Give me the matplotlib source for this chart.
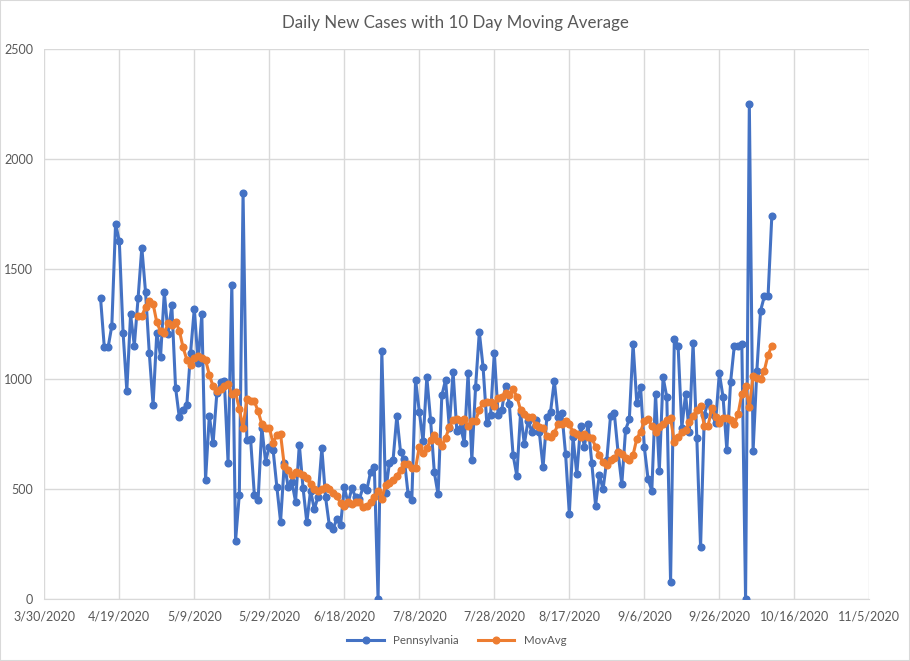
import matplotlib
matplotlib.use("Agg")
import matplotlib.pyplot as plt
import matplotlib.dates as mdates
from matplotlib.patches import Rectangle
import pandas as pd

# Datos (casos diarios desde 4/14/2020)
start_cases = "2020-04-14"
cases = [
    1367, 1144, 1144, 1242, 1707, 1626, 1212, 948, 1294, 1153, 1367, 1598, 1394, 1117, 883, 1212, 1103,
    1394, 1207, 1335, 962, 826, 862, 883, 1120, 1321, 1074, 1294, 544, 835, 708, 935, 985, 992, 621, 1430, 267,
    476, 1844, 726, 730, 476, 449, 780, 626, 694, 680, 512,
    353, 618, 512, 535, 444, 702, 505, 350, 494, 409, 467, 686, 464, 336, 320, 365, 336, 509, 436, 505,
    464, 455, 509, 497, 579, 603, 0, 1126, 485, 618,
    633, 833, 668, 636, 479, 452, 997, 852, 717, 1009, 815, 577, 477, 926, 997, 780, 1033, 765, 780, 712,
    1027, 633, 964, 1214, 1055, 800, 838, 1121, 838, 861, 970,
    888, 656, 562, 848, 705, 812, 762, 815, 758, 600, 827, 853, 992, 827, 848, 661, 388, 736, 568, 789,
    694, 795, 618, 426, 565, 500, 635, 835, 845, 668, 523,
    770, 818, 1159, 891, 964, 691, 545, 494, 932, 585, 1009, 918, 77, 1182, 1152, 780, 932, 758, 1164, 732,
    236, 838, 898, 840, 803, 1027, 918, 679, 986, 1153,
    1153, 1159, 0, 2252, 674, 1035, 1311, 1376, 1379, 1742,
]

# Media movil de 10 dias (desde 4/24/2020)
start_avg = "2020-04-24"
mov_avg = [
    1285, 1285, 1329, 1355, 1343, 1258, 1217,
    1210, 1253, 1244, 1262, 1221, 1144, 1089, 1064, 1094, 1104, 1098, 1088, 1020, 968, 948, 956, 968, 980,
    934, 940, 864, 780, 908, 900, 900, 855, 796, 780, 779, 710, 748,
    750, 606, 588, 566, 577, 575, 565, 551, 522, 503, 490, 503, 510, 500, 481, 469, 437, 425, 440, 432,
    442, 440, 418, 423, 442, 467, 491, 457, 520, 530,
    542, 561, 588, 616, 614, 597, 595, 694, 664, 686, 724, 747, 717, 698, 732, 783, 815, 818, 812, 818,
    786, 810, 812, 862, 891, 895, 898, 879, 914, 921, 936,
    929, 955, 921, 861, 842, 827, 827, 792, 785, 777, 742, 736, 755, 797, 797, 810, 795, 760, 752, 736,
    753, 739, 732, 694, 656, 624, 609, 634, 643, 668, 658,
    643, 633, 656, 730, 762, 808, 818, 786, 758, 784, 795, 815, 823, 715, 739, 759, 767, 805, 835, 858,
    876, 789, 788, 868, 830, 803, 823, 823, 815, 795,
    842, 933, 967, 873, 1015, 1005, 1000, 1039, 1111, 1152,
]

x_ticks = pd.date_range("2020-03-30", "2020-11-05", freq="20D")
y_ticks = [0, 500, 1000, 1500, 2000, 2500]

dates_cases = pd.date_range(start_cases, periods=len(cases), freq="D")
dates_avg = pd.date_range(start_avg, periods=len(mov_avg), freq="D")

plt.rcParams["font.family"] = ["Lato", "DejaVu Sans"]
GRAY = "#595959"
GRID = "#d9d9d9"

fig = plt.figure(figsize=(9.1, 6.61), dpi=100)
ax = fig.add_axes([0.0487, 0.0933, 0.9066, 0.8326])

ax.plot(dates_cases, cases, color="#4472C4", lw=2.2, marker="o", ms=4.8,
        label="Pennsylvania", zorder=3)
ax.plot(dates_avg, mov_avg, color="#ED7D31", lw=2.2, marker="o", ms=4.8,
        label="MovAvg", zorder=4)

ax.set_xlim(x_ticks[0], x_ticks[-1])
ax.set_ylim(0, 2500)
ax.set_xticks(x_ticks)
ax.set_xticklabels([f"{d.month}/{d.day}/{d.year}" for d in x_ticks])
ax.set_yticks(y_ticks)
ax.tick_params(axis="both", length=0, labelsize=9, colors=GRAY)
ax.tick_params(axis="x", pad=8)
ax.tick_params(axis="y", pad=8)
ax.grid(True, color=GRID, lw=1)
ax.set_axisbelow(True)
for s in ["top", "right", "left"]:
    ax.spines[s].set_visible(False)
ax.spines["bottom"].set_color(GRID)

fig.text(0.5, 0.965, "Daily New Cases with 10 Day Moving Average",
         ha="center", va="center", fontsize=12.2, color=GRAY)

leg = fig.legend(loc="center", bbox_to_anchor=(0.502, 0.031), ncol=2,
                 frameon=False, fontsize=8.3, handlelength=3.2, columnspacing=1.6)
for t in leg.get_texts():
    t.set_color(GRAY)

fig.patches.append(Rectangle((0, 0), 1, 1, transform=fig.transFigure,
                             fill=False, edgecolor=GRID, lw=1.5))

fig.savefig("out.png", dpi=100)
